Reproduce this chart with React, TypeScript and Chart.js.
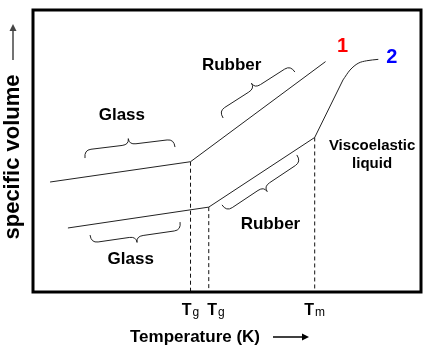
import React, { useEffect, useRef } from "react";
import { Chart, registerables } from "chart.js";

Chart.register(...registerables);

// Curve 1 (upper): glass line then rubber line
const line1X = [4.4, 40.6, 75.4];
const line1Y = [39.0, 46.2, 81.7];
// Curve 2 (lower): glass, rubber, steep rise after Tm
const line2X = [9.0, 45.3, 72.6, 79.9];
const line2Y = [22.7, 30.1, 54.8, 75.2];
// Curve 2 bending top part (viscoelastic liquid)
const curve2X = [79.9, 81.7, 83.8, 86.0, 89.0];
const curve2Y = [75.2, 78.7, 81.1, 82.0, 82.5];

// Transition temperatures (x ticks) and where the dashed drop lines start
const tickValues = [40.6, 45.3, 72.6];
const tickTops = [46.2, 30.1, 54.8];
const tickMain = ["T", "T", "T"];
const tickSubs = ["g", "g", "m"];

// Region labels
const regionLabels = ["Glass", "Rubber", "Viscoelastic\nliquid", "Rubber", "Glass"];
const regionX = [22.9, 51.2, 87.4, 61.2, 25.2];
const regionY = [62.8, 80.3, 48.6, 24.1, 11.7];

// Curve names
const curveNames = ["1", "2"];
const curveNameX = [79.8, 92.5];
const curveNameY = [87.1, 83.2];
const curveNameColors = ["#ff0000", "#0000ff"];

// Braces (chord end points in data units, side: +1 left-of-direction, -1 right)
const braceX1 = [13.4, 14.7, 49.0, 48.7];
const braceY1 = [47.5, 20.2, 61.7, 30.9];
const braceX2 = [36.6, 37.9, 67.5, 68.0];
const braceY2 = [51.4, 24.8, 78.0, 48.6];
const braceSide = [1, -1, 1, -1];

const xTitle = "Temperature (K)";
const yTitle = "specific volume";

const FONT = '"Liberation Sans", Arial, Helvetica, sans-serif';

function drawBrace(ctx: CanvasRenderingContext2D, x1: number, y1: number, x2: number, y2: number, side: number) {
  const h = 8, tip = 6, r = 7;
  const dx = x2 - x1, dy = y2 - y1;
  const L = Math.hypot(dx, dy);
  const ux = dx / L, uy = dy / L;
  const nx = uy * side, ny = -ux * side;
  const P = (t: number, s: number): [number, number] => [x1 + ux * t + nx * s, y1 + uy * t + ny * s];
  ctx.beginPath();
  ctx.moveTo(...P(0, 0));
  ctx.quadraticCurveTo(...P(0, h), ...P(r, h));
  ctx.lineTo(...P(L / 2 - r, h));
  ctx.quadraticCurveTo(...P(L / 2, h), ...P(L / 2, h + tip));
  ctx.quadraticCurveTo(...P(L / 2, h), ...P(L / 2 + r, h));
  ctx.lineTo(...P(L - r, h));
  ctx.quadraticCurveTo(...P(L, h), ...P(L, 0));
  ctx.stroke();
}

function arrow(ctx: CanvasRenderingContext2D, x1: number, y1: number, x2: number, y2: number, color: string) {
  const ang = Math.atan2(y2 - y1, x2 - x1);
  const hl = 7, hw = 3.5;
  const bx = x2 - Math.cos(ang) * hl, by = y2 - Math.sin(ang) * hl;
  ctx.strokeStyle = color;
  ctx.fillStyle = color;
  ctx.lineWidth = 1.5;
  ctx.beginPath();
  ctx.moveTo(x1, y1);
  ctx.lineTo(bx, by);
  ctx.stroke();
  ctx.beginPath();
  ctx.moveTo(x2, y2);
  ctx.lineTo(bx - Math.sin(ang) * hw, by + Math.cos(ang) * hw);
  ctx.lineTo(bx + Math.sin(ang) * hw, by - Math.cos(ang) * hw);
  ctx.closePath();
  ctx.fill();
}

const decor = {
  id: "decor",
  afterDraw(chart: any) {
    const ctx: CanvasRenderingContext2D = chart.ctx;
    const { left, top, right, bottom } = chart.chartArea;
    const xs = chart.scales.x;
    const ys = chart.scales.y;
    ctx.save();

    // frame
    ctx.strokeStyle = "#000";
    ctx.lineWidth = 3;
    ctx.strokeRect(left, top, right - left, bottom - top);

    // braces
    ctx.strokeStyle = "#222";
    ctx.lineWidth = 1;
    for (let i = 0; i < braceX1.length; i++) {
      drawBrace(
        ctx,
        xs.getPixelForValue(braceX1[i]), ys.getPixelForValue(braceY1[i]),
        xs.getPixelForValue(braceX2[i]), ys.getPixelForValue(braceY2[i]),
        braceSide[i]
      );
    }

    // region labels
    ctx.fillStyle = "#000";
    ctx.textAlign = "center";
    ctx.textBaseline = "middle";
    for (let i = 0; i < regionLabels.length; i++) {
      const lines = regionLabels[i].split("\n");
      const size = lines.length > 1 ? 15 : 17;
      const lh = 17.7;
      ctx.font = `bold ${size}px ${FONT}`;
      const cx = xs.getPixelForValue(regionX[i]);
      const cy = ys.getPixelForValue(regionY[i]);
      lines.forEach((t, j) => {
        ctx.fillText(t, cx, cy + (j - (lines.length - 1) / 2) * lh);
      });
    }

    // curve names
    ctx.font = `bold 20px ${FONT}`;
    for (let i = 0; i < curveNames.length; i++) {
      ctx.fillStyle = curveNameColors[i];
      ctx.fillText(curveNames[i], xs.getPixelForValue(curveNameX[i]), ys.getPixelForValue(curveNameY[i]));
    }

    // tick labels with subscripts
    ctx.fillStyle = "#000";
    ctx.textAlign = "left";
    ctx.textBaseline = "alphabetic";
    let prevRight = -Infinity;
    const baseY = bottom + 23;
    for (let i = 0; i < tickValues.length; i++) {
      ctx.font = `bold 16px ${FONT}`;
      const wm = ctx.measureText(tickMain[i]).width;
      ctx.font = `12px ${FONT}`;
      const ws = ctx.measureText(tickSubs[i]).width;
      const w = wm + ws + 1;
      const c = xs.getPixelForValue(tickValues[i]);
      const x0 = Math.max(c - w / 2, prevRight + 8);
      ctx.font = `bold 16px ${FONT}`;
      ctx.fillText(tickMain[i], x0, baseY);
      ctx.font = `12px ${FONT}`;
      ctx.fillText(tickSubs[i], x0 + wm + 1, baseY + 1);
      prevRight = x0 + w;
    }

    // x title + arrow
    ctx.font = `bold 17px ${FONT}`;
    ctx.textAlign = "center";
    ctx.textBaseline = "alphabetic";
    ctx.fillText(xTitle, left + 162, bottom + 50);
    arrow(ctx, left + 240, bottom + 45, left + 276, bottom + 45, "#000");

    // y title + arrow
    ctx.save();
    ctx.translate(13, top + 147);
    ctx.rotate(-Math.PI / 2);
    ctx.font = `bold 22px ${FONT}`;
    ctx.textAlign = "center";
    ctx.textBaseline = "middle";
    ctx.fillStyle = "#000";
    ctx.fillText(yTitle, 0, 0);
    ctx.restore();
    arrow(ctx, 13, top + 50, 13, top + 14, "#444");

    ctx.restore();
  },
};

export default function App() {
  const ref = useRef<HTMLCanvasElement | null>(null);
  useEffect(() => {
    if (!ref.current) return;
    const lineStyle = { showLine: true, borderColor: "#222", borderWidth: 1, pointRadius: 0, fill: false };
    const chart = new Chart(ref.current, {
      type: "scatter",
      data: {
        datasets: [
          { ...lineStyle, data: line1X.map((x, i) => ({ x, y: line1Y[i] })), tension: 0 },
          { ...lineStyle, data: line2X.map((x, i) => ({ x, y: line2Y[i] })), tension: 0 },
          {
            ...lineStyle,
            data: curve2X.map((x, i) => ({ x, y: curve2Y[i] })),
            cubicInterpolationMode: "monotone",
          },
          ...tickValues.map((v, i) => ({
            ...lineStyle,
            borderColor: "#111",
            borderDash: [4, 3],
            data: [
              { x: v, y: tickTops[i] },
              { x: v, y: 0 },
            ],
          })),
        ] as any,
      },
      options: {
        responsive: false,
        animation: false,
        events: [],
        layout: { padding: { left: 33, right: 15, top: 10, bottom: 61 } },
        plugins: { legend: { display: false }, tooltip: { enabled: false } },
        scales: {
          x: { type: "linear", min: 0, max: 100, display: false },
          y: { type: "linear", min: 0, max: 100, display: false },
        },
      },
      plugins: [decor],
    });
    return () => chart.destroy();
  }, []);
  return (
    <div style={{ position: "fixed", left: 0, top: 0, width: 436, height: 353, background: "#fff" }}>
      <canvas ref={ref} width={436} height={353} style={{ width: 436, height: 353 }} />
    </div>
  );
}
